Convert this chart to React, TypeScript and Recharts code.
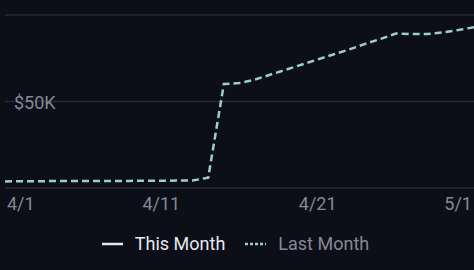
import { LineChart, Line, XAxis, YAxis, CartesianGrid, Legend } from "recharts";

const days = [
  "4/1", "4/2", "4/3", "4/4", "4/5", "4/6", "4/7", "4/8", "4/9", "4/10",
  "4/11", "4/12", "4/13", "4/14", "4/15", "4/16", "4/17", "4/18", "4/19", "4/20",
  "4/21", "4/22", "4/23", "4/24", "4/25", "4/26", "4/27", "4/28", "4/29", "4/30",
  "5/1",
];

// cumulative spend
const lastMonth = [
  3800, 3900, 3900, 4000, 4000, 4000, 4100, 4100, 4100, 4200,
  4200, 4300, 4300, 6000, 60100, 60700, 62700, 65600, 68500, 71400,
  74300, 77200, 80000, 83200, 86100, 89300, 89000, 89000, 89900, 91300,
  93000,
];

// nothing plotted yet for the current month
const thisMonth: (number | null)[] = [];

const seriesOrder = ["This Month", "Last Month"];
const xTicks = ["4/1", "4/11", "4/21", "5/1"];
const yTicks = [50000];
const gridValues = [0, 50000, 100000];

const BG = "#0c0e18";
const GRID = "#262835";
const TEAL = "#9ccfca";
const MUTED = "#858896";
const WHITE = "#e6e8ee";

const data = days.map((day, i) => ({
  day,
  thisMonth: thisMonth[i] ?? null,
  lastMonth: lastMonth[i],
}));

const fmtK = (v: number) => `$${Math.round(v / 1000)}K`;

function XTick(props: any) {
  const { x, y, payload } = props;
  const v = payload.value;
  const anchor = v === xTicks[0] ? "start" : v === xTicks[xTicks.length - 1] ? "end" : "middle";
  const dx = anchor === "start" ? 2 : anchor === "end" ? -2 : 0;
  return (
    <text x={x + dx} y={y} dy={14} textAnchor={anchor} fill={MUTED} fontSize={18} fontFamily="Roboto">
      {v}
    </text>
  );
}

function YTick(props: any) {
  const { y, payload } = props;
  return (
    <text x={14} y={y} dy={7} textAnchor="start" fill={MUTED} fontSize={18} fontFamily="Roboto">
      {fmtK(payload.value)}
    </text>
  );
}

function LegendContent(props: any) {
  const items = [...(props.payload || [])].sort(
    (a: any, b: any) => seriesOrder.indexOf(a.value) - seriesOrder.indexOf(b.value)
  );
  return (
    <div
      style={{
        display: "flex",
        justifyContent: "center",
        alignItems: "center",
        gap: 20,
        fontFamily: "Roboto",
        fontSize: 18,
        paddingRight: 8,
        marginTop: 9,
      }}
    >
      {items.map((it: any) => {
        const dashed = it.dataKey === "lastMonth";
        return (
          <div key={it.value} style={{ display: "flex", alignItems: "center", gap: 12 }}>
            <svg width={21} height={4}>
              <line
                x1={0}
                y1={2}
                x2={21}
                y2={2}
                stroke={it.color}
                strokeWidth={2.5}
                strokeDasharray={dashed ? "3 2" : undefined}
              />
            </svg>
            <span style={{ color: dashed ? MUTED : WHITE }}>{it.value}</span>
          </div>
        );
      })}
    </div>
  );
}

export default function App() {
  return (
    <div style={{ position: "fixed", left: 0, top: 0, width: 474, height: 270, background: BG }}>
      <LineChart width={474} height={270} data={data} margin={{ top: 15, right: 0, left: 5, bottom: 8 }}>
        <CartesianGrid vertical={false} stroke={GRID} strokeWidth={1.5} horizontalValues={gridValues} />
        <XAxis
          dataKey="day"
          ticks={xTicks}
          interval={0}
          axisLine={false}
          tickLine={false}
          tick={<XTick />}
          height={36}
        />
        <YAxis
          domain={[0, 100000]}
          ticks={yTicks}
          interval={0}
          mirror
          width={60}
          axisLine={false}
          tickLine={false}
          tick={<YTick />}
        />
        <Legend verticalAlign="bottom" height={38} content={<LegendContent />} />
        <Line
          dataKey="thisMonth"
          name="This Month"
          stroke={WHITE}
          strokeWidth={2.5}
          dot={false}
          isAnimationActive={false}
        />
        <Line
          dataKey="lastMonth"
          name="Last Month"
          stroke={TEAL}
          strokeWidth={2.5}
          strokeDasharray="7 4"
          dot={false}
          isAnimationActive={false}
        />
      </LineChart>
    </div>
  );
}
